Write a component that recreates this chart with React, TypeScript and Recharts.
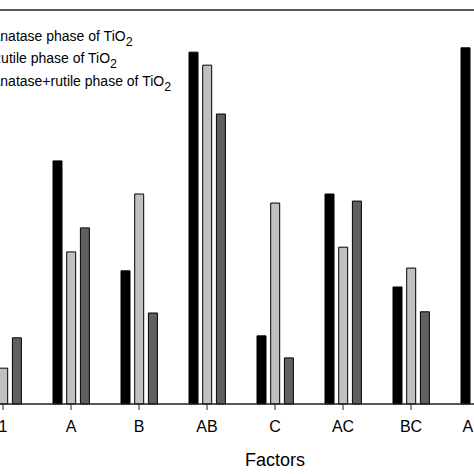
import { BarChart, Bar, XAxis, YAxis, Legend, ReferenceLine, Label } from "recharts";

const categories = ["1", "A", "B", "AB", "C", "AC", "BC", "ABC"];
const anatase = [13, 61.7, 33.8, 89.3, 17.3, 53.3, 29.7, 90.4];
const rutile = [9.1, 38.6, 53.3, 86.0, 51.0, 39.8, 34.5, 80];
const mixed = [16.8, 44.7, 23.1, 73.6, 11.7, 51.5, 23.4, 70];
const seriesKeys = ["anatase", "rutile", "mixed"];

const font = "'Liberation Sans', Arial, sans-serif";

const data = categories.map((factor, i) => ({
  factor,
  anatase: anatase[i],
  rutile: rutile[i],
  mixed: mixed[i],
}));

function PhaseLegend({ payload }: { payload?: any[] }) {
  const items = [...(payload ?? [])].sort(
    (a, b) => seriesKeys.indexOf(a.dataKey) - seriesKeys.indexOf(b.dataKey)
  );
  return (
    <div style={{ fontFamily: font, fontSize: 14, color: "#000" }}>
      {items.map((entry) => (
        <div key={entry.value} style={{ height: 22.3, lineHeight: "22.3px", whiteSpace: "nowrap" }}>
          <span
            style={{
              display: "inline-block",
              boxSizing: "border-box",
              width: 14,
              height: 10,
              marginRight: 6,
              background: entry.color,
              border: "1px solid #000",
              verticalAlign: "middle",
            }}
          />
          <span>
            {String(entry.value).slice(0, -1)}
            <sub style={{ fontSize: 12.5, lineHeight: 0, verticalAlign: -5 }}>2</sub>
          </span>
        </div>
      ))}
    </div>
  );
}

export default function App() {
  return (
    <div
      style={{
        position: "absolute",
        left: 0,
        top: 0,
        width: 474,
        height: 474,
        overflow: "hidden",
        background: "#fff",
        fontFamily: font,
      }}
    >
      <div style={{ position: "absolute", left: -41, top: 0 }}>
        <BarChart width={564} height={474} data={data} margin={{ top: 10, right: 10, left: 10, bottom: 3 }} barGap={4.7}>
          <XAxis
            dataKey="factor"
            interval={0}
            height={67}
            tickSize={6}
            tickMargin={11}
            tick={{ fill: "#000", fontSize: 16, fontFamily: font }}
            tickLine={{ stroke: "#222" }}
            axisLine={{ stroke: "#222", strokeWidth: 1.3 }}
          >
            <Label value="Factors" position="insideBottom" offset={5} dx={34} fill="#000" fontSize={18} fontFamily={font} />
          </XAxis>
          <YAxis hide domain={[0, 100]} />
          <ReferenceLine y={100} stroke="#222" strokeWidth={1.5} />
          <Legend
            layout="vertical"
            align="center"
            verticalAlign="middle"
            wrapperStyle={{ left: 12, top: 25, width: "auto" }}
            content={<PhaseLegend />}
          />
          <Bar dataKey="anatase" name="Anatase phase of TiO2" fill="#000000" stroke="#000" strokeWidth={1} barSize={9} isAnimationActive={false} />
          <Bar dataKey="rutile" name="Rutile phase of TiO2" fill="#c0c0c0" stroke="#000" strokeWidth={1} barSize={9} isAnimationActive={false} />
          <Bar dataKey="mixed" name="Anatase+rutile phase of TiO2" fill="#606060" stroke="#000" strokeWidth={1} barSize={9} isAnimationActive={false} />
        </BarChart>
      </div>
    </div>
  );
}
